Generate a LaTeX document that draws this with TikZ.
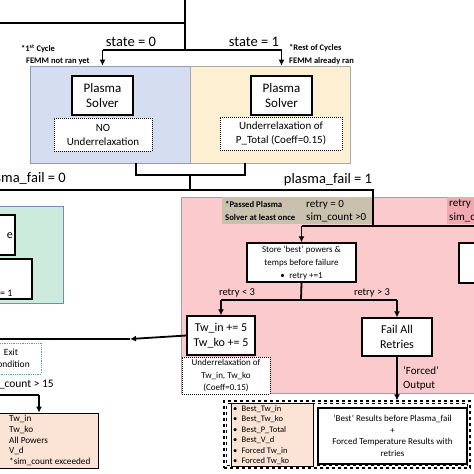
\documentclass[tikz,border=0pt]{standalone}
\usepackage{fontspec}
\setmainfont{Carlito}
\usetikzlibrary{arrows.meta,calc}
\definecolor{bluefill}{HTML}{D5DDF1}
\definecolor{blueedge}{HTML}{8C9CBC}
\definecolor{yellowfill}{HTML}{FDF0D2}
\definecolor{yellowedge}{HTML}{A9A9A9}
\definecolor{greenfill}{HTML}{CDEBDC}
\definecolor{greenedge}{HTML}{6F8FB0}
\definecolor{pinkfill}{HTML}{FBCACC}
\definecolor{pinkedge}{HTML}{B496A6}
\definecolor{graylbl}{HTML}{C9C1AE}
\definecolor{darkpink}{HTML}{F0A9AF}
\definecolor{orangefill}{HTML}{FBE4D6}
\definecolor{tealedge}{HTML}{4FA89A}
\begin{document}
\begin{tikzpicture}[x=1pt,y=-1pt,
  conn/.style={line width=1.8pt,black},
  arr/.style={conn,-{Latex[length=6pt,width=6pt]}},
  bg/.style={draw,line width=0.8pt,inner sep=0pt,minimum width=#1},
  blackbox/.style={draw=black,fill=white,line width=1.4pt,inner sep=0pt,align=center},
  dotbox/.style={draw=black,fill=white,densely dotted,line width=1pt,inner sep=0pt,align=center},
  txt/.style={inner sep=0pt,align=left}
]
\useasboundingbox (0,0) rectangle (474,474);
\clip (0,0) rectangle (474,474);

% coordinates of the top connectors
\coordinate (ctop) at (185,0);
\coordinate (cj) at (185,23);
\coordinate (cl) at (0,23);
\coordinate (csplit) at (185,50);

% background regions
\node[bg=160pt,draw=blueedge,fill=bluefill,minimum height=97pt] (bluebg) at (110,114.5) {};
\node[bg=160pt,draw=yellowedge,fill=yellowfill,minimum height=97pt] (yellowbg) at (270,114.5) {};
\node[bg=68pt,draw=greenedge,fill=greenfill,minimum height=97pt] (greenbg) at (29,254.5) {};
\node[bg=299pt,draw=pinkedge,fill=pinkfill,minimum height=196pt] (pinkbg) at (330.5,295) {};
\node[bg=151pt,draw=none,fill=graylbl,minimum height=27pt] (graylbl) at (297.5,210.5) {};
\node[bg=33pt,draw=none,fill=darkpink,minimum height=27pt] (pinklbl) at (463.5,210.5) {};

% top lines
\draw[conn] (ctop) -- (csplit);
\draw[conn] (cl) -- (cj);
\node[blackbox,font=\fontsize{13}{15.5}\selectfont,minimum width=61pt,minimum height=39pt] (ps1) at (102.5,95.5) {Plasma\\Solver};
\node[blackbox,font=\fontsize{13}{15.5}\selectfont,minimum width=61pt,minimum height=39pt] (ps2) at (281.5,95.5) {Plasma\\Solver};
\draw[conn] (ps1.center |- csplit) -- (ps2.center |- csplit);
\draw[arr] (ps1.center |- csplit) -- (ps1.center |- bluebg.north);
\draw[arr] (ps2.center |- csplit) -- (ps2.center |- bluebg.north);

\node[txt,font=\fontsize{14.5}{17}\selectfont] (st0) at (131,42) {state = 0};
\node[txt,font=\fontsize{14.5}{17}\selectfont] (st1) at (254,42) {state = 1};
\node[txt,anchor=west,font=\bfseries\fontsize{8.5}{10}\selectfont] (c1a) at (21,49) {*1\textsuperscript{st} Cycle};
\node[txt,anchor=west,font=\bfseries\fontsize{8.5}{10}\selectfont] (c1b) at (26,61.5) {FEMM not ran yet};
\node[txt,anchor=west,font=\bfseries\fontsize{8.5}{10}\selectfont] (c2a) at (289,48.5) {*Rest of Cycles};
\node[txt,anchor=west,font=\bfseries\fontsize{8.5}{10}\selectfont] (c2b) at (289,61.5) {FEMM already ran};

\node[dotbox,font=\fontsize{11}{14}\selectfont,minimum width=98pt,minimum height=33pt] (nu1) at (103,134.5) {NO\\Underrelaxation};
\node[dotbox,font=\fontsize{11}{14}\selectfont,minimum width=122pt,minimum height=33pt] (nu2) at (281,133.5) {Underrelaxation of\\P\_Total (Coeff=0.15)};

% merge below
\coordinate (m1) at (136,175);
\coordinate (m2) at (245,175);
\coordinate (m3) at (190,175);
\coordinate (m4) at (190,190);
\coordinate (r0) at (0,190);
\coordinate (r1) at (373,190);
\coordinate (r2) at (373,226);
\coordinate (r3) at (474,226);
\draw[conn] (m1 |- bluebg.south) -- (m1) -- (m2) -- (m2 |- bluebg.south);
\draw[conn] (m3) -- (m4);
\draw[conn] (r0) -- (r1) -- (r2);

\node[txt,font=\fontsize{14.5}{17}\selectfont,anchor=east] (pf0) at (66,179) {plasma\_fail = 0};
\node[txt,font=\fontsize{14.5}{17}\selectfont] (pf1) at (328,180) {plasma\_fail = 1};

% green region content
\node[blackbox,minimum width=35pt,minimum height=40pt] (gb1) at (-2.5,235) {};
\node[txt,font=\fontsize{12}{14}\selectfont,anchor=east] (gb1t) at (13,236) {e};
\node[blackbox,minimum width=52pt,minimum height=40pt] (gb2) at (6,279) {};
\node[txt,font=\fontsize{10}{12}\selectfont,anchor=west] (gb2t) at (0,293) {= 1};

% labels in the pink region
\node[txt,anchor=west,font=\bfseries\fontsize{8.7}{12.5}\selectfont] (pl) at (225,211) {*Passed Plasma\\Solver at least once};
\node[txt,anchor=west,font=\fontsize{11}{13.5}\selectfont] (rc) at (306,211) {retry = 0\\sim\_count >0};
\node[txt,anchor=west,font=\fontsize{11}{13.5}\selectfont] (rc2) at (449,211) {retry\\sim\_count};

% store box
\node[blackbox,font=\fontsize{9}{13}\selectfont,minimum width=109pt,minimum height=39pt] (store) at (301.5,262.5) {Store ‘best’ powers \&\\temps before failure\\\textbullet\enspace retry +=1};
\node[blackbox,minimum width=31pt,minimum height=40pt] (rbox) at (474.5,263) {};
\draw[conn] (store.north |- r2) -- (r3);
\draw[arr] (store.north |- r2) -- (store.north);

% retry branch
\node[blackbox,font=\fontsize{12}{15}\selectfont,minimum width=68pt,minimum height=39pt] (tw) at (221,335.5) {Tw\_in += 5\\Tw\_ko += 5};
\node[blackbox,font=\fontsize{12}{15}\selectfont,minimum width=70pt,minimum height=38pt] (fail) at (397,337) {Fail All\\Retries};
\coordinate (b0) at (301,300);
\draw[conn] (store.south) -- (b0);
\draw[conn] (tw.north |- b0) -- (fail.north |- b0);
\draw[arr] (tw.north |- b0) -- (tw.north);
\draw[arr] (fail.north |- b0) -- (fail.north);
\node[txt,font=\fontsize{10.5}{12}\selectfont] (lt3) at (237,292.5) {retry < 3};
\node[txt,font=\fontsize{10.5}{12}\selectfont] (gt3) at (372,292.5) {retry > 3};

\node[dotbox,font=\fontsize{9}{12.5}\selectfont,minimum width=88pt,minimum height=37pt] (ud) at (226,375.5) {Underrelaxation of\\Tw\_in, Tw\_ko\\(Coeff=0.15)};

% exit leftwards
\coordinate (la) at (130,339);
\coordinate (lb) at (0,339);
\draw[arr] (tw.west) -- (la);
\draw[conn] (la) -- (lb);

\node[draw=tealedge,densely dotted,line width=0.8pt,inner sep=0pt,minimum width=71pt,minimum height=31pt] (exitb) at (5.5,358.5) {};
\node[txt,align=center,font=\fontsize{9.5}{12}\selectfont] (exitt) at (11,358.5) {Exit\\Condition};
\node[txt,font=\fontsize{11.5}{13}\selectfont,anchor=east] (sc) at (54,384) {sim\_count > 15};

\node[draw=black,fill=orangefill,line width=0.9pt,inner sep=0pt,minimum width=108pt,minimum height=55pt] (or1) at (44,440.5) {};
\node[txt,anchor=west,font=\fontsize{9.2}{10.9}\selectfont] (or1t) at (9,440.5) {Tw\_in\\Tw\_ko\\All Powers\\V\_d\\*sim\_count exceeded};
\coordinate (sa) at (0,395);
\coordinate (sb) at (39,395);
\draw[conn] (sa) -- (sb);
\draw[arr] (sb) -- (sb |- or1.north);

% forced output
\node[draw=black,dashed,line width=1.2pt,inner sep=0pt,minimum width=246pt,minimum height=67pt] (outer) at (347,434.5) {};
\node[draw=black,dashed,line width=0.8pt,inner sep=0pt,minimum width=241pt,minimum height=62pt] (outer2) at (347,434.5) {};
\draw[arr] (fail.south) -- (outer.north -| fail.south);
\node[txt,anchor=west,font=\fontsize{11}{14}\selectfont] (fo) at (403,378) {‘Forced’\\Output};

\node[draw=black,fill=orangefill,line width=1pt,inner sep=0pt,minimum width=82pt,minimum height=63pt] (or2) at (272,434.5) {};
\node[txt,anchor=west,font=\fontsize{8.5}{10.5}\selectfont] (or2t) at (233,435) {\textbullet\enspace Best\_Tw\_in\\\textbullet\enspace Best\_Tw\_ko\\\textbullet\enspace Best\_P\_Total\\\textbullet\enspace Best\_V\_d\\\textbullet\enspace Forced Tw\_in\\\textbullet\enspace Forced Tw\_ko};
\node[blackbox,line width=1.2pt,font=\fontsize{9}{11.5}\selectfont,minimum width=149pt,minimum height=56pt] (outbox) at (392.5,436) {‘Best’ Results before Plasma\_fail\\+\\Forced Temperature Results with\\retries};
\end{tikzpicture}
\end{document}
